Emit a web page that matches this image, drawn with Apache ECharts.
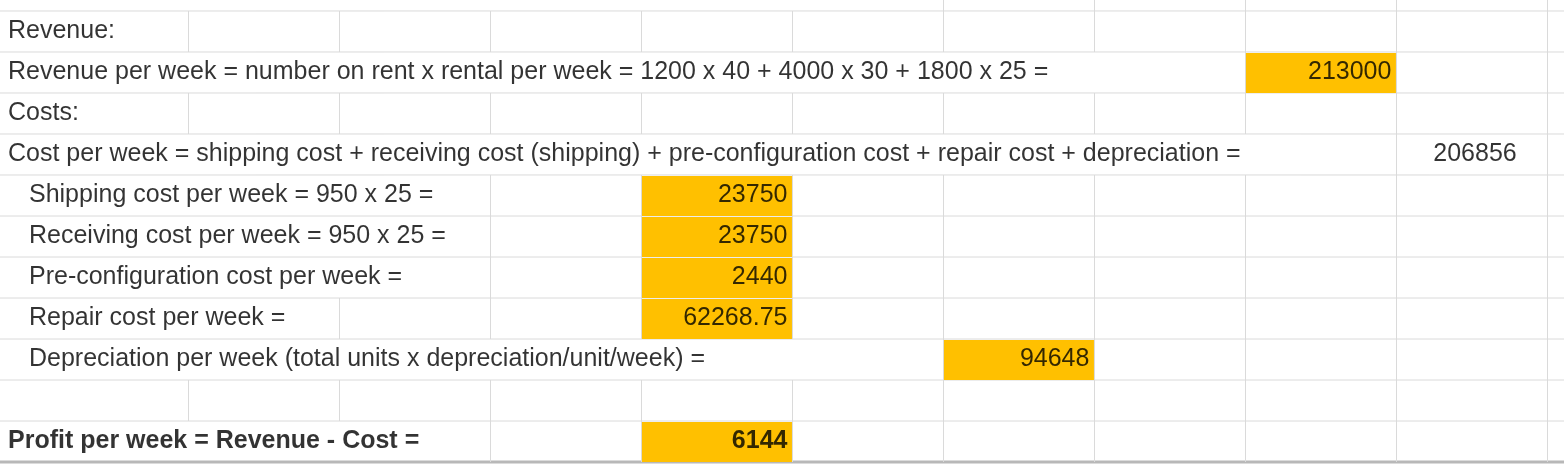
<!DOCTYPE html>
<html>
<head>
<meta charset="utf-8">
<script src="https://cdn.jsdelivr.net/npm/echarts@6/dist/echarts.min.js"></script>
<style>html,body{margin:0;padding:0;background:#fff}</style>
</head>
<body>
<div id="sheet" style="width:1564px;height:468px;"></div>
<script>
// sheet rows: label text, indent flag, bold flag
var rowTexts = [
    'Now evaluate revenues and costs:',
    'Revenue:',
    'Revenue per week = number on rent x rental per week = 1200 x 40 + 4000 x 30 + 1800 x 25 =',
    'Costs:',
    'Cost per week = shipping cost + receiving cost (shipping) + pre-configuration cost + repair cost + depreciation =',
    'Shipping cost per week = 950 x 25 =',
    'Receiving cost per week = 950 x 25 =',
    'Pre-configuration cost per week =',
    'Repair cost per week =',
    'Depreciation per week (total units x depreciation/unit/week) =',
    '',
    'Profit per week = Revenue - Cost ='
];
var rowIndent = [0, 0, 0, 0, 0, 1, 1, 1, 1, 1, 0, 0];
var rowBold   = [0, 0, 0, 0, 0, 0, 0, 0, 0, 0, 0, 1];
// first column boundary visible after the overflowing text
var rowCover  = [6, 1, 8, 1, 9, 3, 3, 3, 2, 6, 1, 3];

// values: [row, column, value, highlighted]
var cellRows   = [2, 4, 5, 6, 7, 8, 9, 11];
var cellCols   = [8, 9, 4, 4, 4, 4, 6, 4];
var cellValues = ['213000', '206856', '23750', '23750', '2440', '62268.75', '94648', '6144'];
var cellFill   = [1, 0, 1, 1, 1, 1, 1, 1];

var sheet = echarts.init(document.getElementById('sheet'));

var font = 'Liberation Sans';
var fontSize = 25;
var gridLine = '#dadada';

var gridData = rowTexts.map(function (t, i) { return [i, rowCover[i]]; });
var textData = rowTexts.map(function (t, i) {
    var d = { value: [rowIndent[i] ? -0.053 : -0.192, i + 0.5], name: t };
    if (rowBold[i]) d.label = { fontWeight: 'bold' };
    return d;
});
var fillData = [], valueData = [];
cellRows.forEach(function (r, i) {
    if (cellFill[i]) fillData.push([cellCols[i], r]);
    var right = cellCols[i] === 9 ? 9.8 : cellCols[i] + 0.97;
    var d = { value: [right, r + 0.5], name: cellValues[i] };
    if (rowBold[r]) d.label = { fontWeight: 'bold' };
    valueData.push(d);
});

var option = {
    animation: false,
    grid: { left: 0, right: 0, top: 0, bottom: 0 },
    xAxis: { type: 'value', min: -0.245, max: 10.113, show: false },
    yAxis: { type: 'value', min: 0.732, max: 12.146, inverse: true, show: false },
    series: [{
        type: 'custom',
        data: gridData,
        renderItem: function (params, api) {
            var r = api.value(0), cover = api.value(1);
            var top = api.coord([0, r])[1], bot = api.coord([0, r + 1])[1];
            var kids = [{
                type: 'line',
                shape: { x1: 0, y1: bot, x2: 1564, y2: bot },
                style: { stroke: r === 11 ? '#b8b8b8' : gridLine, lineWidth: r === 11 ? 3 : 1 }
            }];
            for (var c = cover; c <= 10; c++) {
                var x = Math.round(api.coord([c, 0])[0]) + 0.5;
                kids.push({ type: 'line', shape: { x1: x, y1: top, x2: x, y2: bot }, style: { stroke: gridLine, lineWidth: 1 } });
            }
            return { type: 'group', children: kids };
        }
    }, {
        type: 'custom',
        data: fillData,
        renderItem: function (params, api) {
            var p0 = api.coord([api.value(0), api.value(1)]);
            var p1 = api.coord([api.value(0) + 1, api.value(1) + 1]);
            return { type: 'rect', shape: { x: p0[0] + 1, y: p0[1] + 1, width: p1[0] - p0[0] - 1, height: p1[1] - p0[1] - 1 }, style: { fill: '#FFC000' } };
        }
    }, {
        type: 'scatter',
        symbolSize: 0,
        data: textData,
        label: {
            show: true, position: 'right', distance: 0, color: '#000', fontFamily: font, fontSize: fontSize,
            formatter: function (p) { return p.name; }
        }
    }, {
        type: 'scatter',
        symbolSize: 0,
        data: valueData,
        label: {
            show: true, position: 'left', distance: 0, color: '#000', fontFamily: font, fontSize: fontSize,
            formatter: function (p) { return p.name; }
        }
    }]
};

sheet.setOption(option);
</script>
</body>
</html>
